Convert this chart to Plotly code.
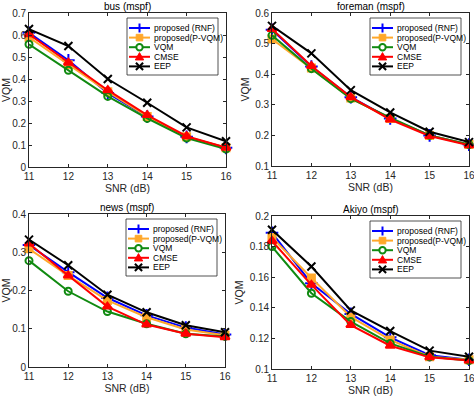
import plotly.graph_objects as go

# ---------------- data ----------------
snr = [11, 12, 13, 14, 15, 16]
series_names = ["proposed (RNF)", "proposed(P-VQM)", "VQM", "CMSE", "EEP"]
panel_titles = ["bus (mspf)", "foreman (mspf)", "news (mspf)", "Akiyo (mspf)"]

bus_rnf = [0.610, 0.485, 0.336, 0.229, 0.137, 0.087]
bus_pvqm = [0.590, 0.465, 0.342, 0.230, 0.137, 0.088]
bus_vqm = [0.558, 0.440, 0.321, 0.221, 0.132, 0.082]
bus_cmse = [0.603, 0.474, 0.349, 0.236, 0.140, 0.088]
bus_eep = [0.627, 0.550, 0.400, 0.292, 0.180, 0.117]

foreman_rnf = [0.545, 0.425, 0.325, 0.255, 0.200, 0.170]
foreman_pvqm = [0.515, 0.420, 0.322, 0.255, 0.200, 0.170]
foreman_vqm = [0.527, 0.418, 0.320, 0.258, 0.200, 0.170]
foreman_cmse = [0.548, 0.427, 0.325, 0.252, 0.198, 0.168]
foreman_eep = [0.558, 0.468, 0.348, 0.275, 0.212, 0.178]

news_rnf = [0.319, 0.248, 0.181, 0.135, 0.103, 0.085]
news_pvqm = [0.309, 0.239, 0.174, 0.130, 0.098, 0.083]
news_vqm = [0.278, 0.198, 0.145, 0.113, 0.087, 0.080]
news_cmse = [0.323, 0.239, 0.158, 0.111, 0.087, 0.078]
news_eep = [0.333, 0.266, 0.189, 0.143, 0.109, 0.091]

akiyo_rnf = [0.189, 0.156, 0.136, 0.1207, 0.109, 0.106]
akiyo_pvqm = [0.186, 0.1595, 0.134, 0.119, 0.108, 0.106]
akiyo_vqm = [0.180, 0.1495, 0.131, 0.1167, 0.108, 0.1055]
akiyo_cmse = [0.1837, 0.155, 0.1287, 0.1152, 0.1076, 0.1055]
akiyo_eep = [0.191, 0.1670, 0.1383, 0.1248, 0.112, 0.108]

panel_data = [
    [bus_rnf, bus_pvqm, bus_vqm, bus_cmse, bus_eep],
    [foreman_rnf, foreman_pvqm, foreman_vqm, foreman_cmse, foreman_eep],
    [news_rnf, news_pvqm, news_vqm, news_cmse, news_eep],
    [akiyo_rnf, akiyo_pvqm, akiyo_vqm, akiyo_cmse, akiyo_eep],
]
y_ranges = [[0, 0.7], [0.1, 0.6], [0, 0.4], [0.1, 0.2]]
y_dticks = [0.1, 0.1, 0.1, 0.02]

# ---------------- styles ----------------
W, H = 474, 397
colors = ["#0000FF", "#FFA82A", "#108A10", "#FF0000", "#000000"]
symbols = ["cross-thin", "square", "circle-open", "triangle-up", "x-thin"]
msizes = [9, 7, 7, 8, 8]
mkinds = ["plus", "square", "circle", "triangle", "x"]
FONT = "Liberation Sans, Arial, Helvetica, sans-serif"
AX = "#262626"

# plot areas in pixels (x0, x1, y0, y1)
areas = [(29, 226, 13, 167), (272, 469, 13, 166), (29, 225, 214, 367), (272, 469, 216, 369)]


def px(x):
    return x / W


def py(y):
    return 1 - y / H


fig = go.Figure()
shapes = []
annotations = []

for p in range(4):
    xa = "x" if p == 0 else f"x{p + 1}"
    ya = "y" if p == 0 else f"y{p + 1}"
    for k in range(5):
        fig.add_trace(go.Scatter(
            x=snr, y=panel_data[p][k], name=series_names[k],
            xaxis=xa, yaxis=ya, mode="lines+markers", showlegend=False,
            cliponaxis=False,
            line=dict(color=colors[k], width=2),
            marker=dict(symbol=symbols[k], size=msizes[k], color=colors[k],
                        line=dict(color=colors[k], width=2)),
        ))
    x0, x1, y0, y1 = areas[p]
    axkey = "xaxis" if p == 0 else f"xaxis{p + 1}"
    aykey = "yaxis" if p == 0 else f"yaxis{p + 1}"
    common = dict(showline=True, linecolor=AX, linewidth=0.8, mirror="allticks",
                  ticks="inside", ticklen=3, tickcolor=AX, tickwidth=0.8,
                  showgrid=False, zeroline=False, automargin=False,
                  ticklabeloverflow="allow",
                  tickfont=dict(family=FONT, size=10, color=AX))
    fig.update_layout(**{
        axkey: dict(domain=[px(x0), px(x1)], range=[11, 16], dtick=1, anchor=ya,
                    title=dict(text="SNR (dB)", standoff=1,
                               font=dict(family=FONT, size=10.5, color=AX)),
                    **common),
        aykey: dict(domain=[py(y1), py(y0)], range=y_ranges[p], dtick=y_dticks[p],
                    tick0=y_ranges[p][0], anchor=xa,
                    title=dict(text="VQM", standoff=3,
                               font=dict(family=FONT, size=10.5, color=AX)),
                    **common),
    })
    # panel title
    annotations.append(dict(text=panel_titles[p], x=px((x0 + x1) / 2), y=py(y0 - 6.3),
                            xref="paper", yref="paper", xanchor="center", yanchor="middle",
                            showarrow=False, borderpad=0,
                            font=dict(family=FONT, size=10, color="#000000")))

    # legend box (MATLAB-style, inside the top right corner)
    lw, lh = 91, 57
    lx = x1 - 8 - lw
    ly = y0 + 5
    shapes.append(dict(type="rect", xref="paper", yref="paper",
                       x0=px(lx), x1=px(lx + lw), y0=py(ly + lh), y1=py(ly),
                       line=dict(color=AX, width=0.8), fillcolor="white", layer="above"))
    for k in range(5):
        cy = ly + 10 + k * 9.6
        shapes.append(dict(type="line", xref="paper", yref="paper",
                           x0=px(lx + 2), x1=px(lx + 23), y0=py(cy), y1=py(cy),
                           line=dict(color=colors[k], width=2), layer="above"))
        cx = lx + 12.5
        kind = mkinds[k]
        c = colors[k]
        if kind == "plus":
            s = 4.5
            shapes.append(dict(type="line", xref="paper", yref="paper", x0=px(cx), x1=px(cx),
                               y0=py(cy - s), y1=py(cy + s), line=dict(color=c, width=2)))
            shapes.append(dict(type="line", xref="paper", yref="paper", x0=px(cx - s), x1=px(cx + s),
                               y0=py(cy), y1=py(cy), line=dict(color=c, width=2)))
        elif kind == "square":
            s = 3.3
            shapes.append(dict(type="rect", xref="paper", yref="paper", x0=px(cx - s), x1=px(cx + s),
                               y0=py(cy + s), y1=py(cy - s), fillcolor=c, line=dict(color=c, width=1)))
        elif kind == "circle":
            s = 3.2
            shapes.append(dict(type="circle", xref="paper", yref="paper", x0=px(cx - s), x1=px(cx + s),
                               y0=py(cy + s), y1=py(cy - s), fillcolor="white", line=dict(color=c, width=2)))
        elif kind == "triangle":
            s = 4.2
            path = (f"M {px(cx - s)} {py(cy + s * 0.75)} L {px(cx + s)} {py(cy + s * 0.75)} "
                    f"L {px(cx)} {py(cy - s)} Z")
            shapes.append(dict(type="path", xref="paper", yref="paper", path=path,
                               fillcolor=c, line=dict(color=c, width=1)))
        else:
            s = 3.6
            shapes.append(dict(type="line", xref="paper", yref="paper", x0=px(cx - s), x1=px(cx + s),
                               y0=py(cy - s), y1=py(cy + s), line=dict(color=c, width=2)))
            shapes.append(dict(type="line", xref="paper", yref="paper", x0=px(cx - s), x1=px(cx + s),
                               y0=py(cy + s), y1=py(cy - s), line=dict(color=c, width=2)))
        annotations.append(dict(text=series_names[k], x=px(lx + 24.5), y=py(cy),
                                xref="paper", yref="paper", xanchor="left", yanchor="middle",
                                showarrow=False,
                                font=dict(family=FONT, size=8.5, color="#000000")))

fig.update_layout(
    width=W, height=H,
    margin=dict(l=0, r=0, t=0, b=0, autoexpand=False),
    paper_bgcolor="white", plot_bgcolor="white",
    showlegend=False,
    shapes=shapes, annotations=annotations,
    font=dict(family=FONT),
)

# remove the browser's default 8px page margin so the figure fills the window
fig.write_html("out.html",
               config={"displayModeBar": False},
               post_script="document.body.style.margin='0';document.body.style.overflow='hidden';")
